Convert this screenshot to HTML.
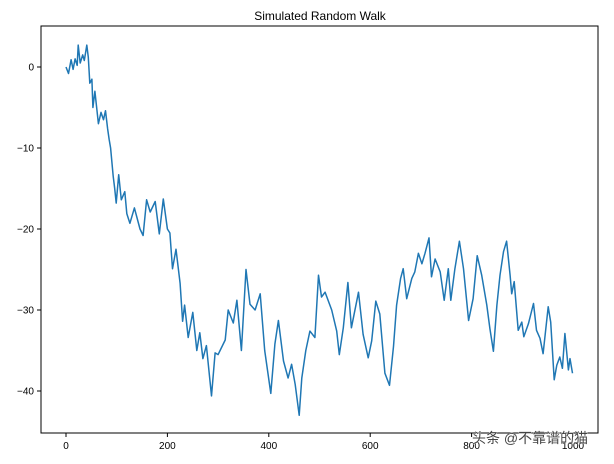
<!DOCTYPE html>
<html><head><meta charset="utf-8"><style>
body{margin:0;background:#fff;width:614px;height:459px;overflow:hidden}
svg text{font-family:"Liberation Sans","DejaVu Sans",sans-serif}
</style></head><body>
<svg id="chart" width="614" height="459" xmlns="http://www.w3.org/2000/svg">
<rect width="614" height="459" fill="#fff"/>
<text x="320" y="20" font-size="12" text-anchor="middle" fill="#000">Simulated Random Walk</text>
<g id="xticks"></g>
<g id="yticks"></g>
<path id="line" fill="none" stroke="#1f77b4" stroke-width="1.5" stroke-linejoin="round"/>
<rect x="41" y="26" width="557" height="407" fill="none" stroke="#000" stroke-width="1"/>
<text x="472" y="443" font-size="14" fill="#444" stroke="#fff" stroke-width="0.6" paint-order="stroke" style='font-family:"Liberation Sans","Noto Sans CJK SC",sans-serif'>头条 @不靠谱的猫</text>
</svg>
<script>
const steps=[0,5,10,14,18,22,24,28,33,36,41,44,47,51,53,57,64,69,74,78,82,85,88,93,96,99,104,109,116,120,126,135,146,152,159,166,176,184,192,200,205,210,217,225,230,234,241,250,258,264,270,277,287,294,300,314,320,330,337,346,355,363,373,383,392,404,412,419,429,438,445,452,460,465,473,481,491,498,504,511,524,534,539,547,556,563,577,586,596,603,611,619,629,638,646,652,660,665,672,682,688,695,702,708,716,721,728,738,746,754,759,767,776,784,794,803,811,820,830,836,843,850,856,863,869,876,879,884,892,899,903,912,922,928,935,941,951,956,963,968,974,979,984,991,994,999];
const values=[0,-0.8,0.9,-0.3,1.0,0.2,2.7,0.5,1.5,0.8,2.7,1.2,-2,-1.5,-5,-3,-7,-5.6,-6.5,-5.4,-7.6,-8.9,-10,-13.5,-15,-16.8,-13.3,-16.4,-15.4,-18.1,-19.3,-17.4,-20,-20.8,-16.4,-17.9,-16.6,-20.6,-16.3,-20,-20.5,-24.9,-22.5,-26.7,-31.4,-29.4,-33.4,-30.3,-35,-32.8,-36,-34.4,-40.6,-35.3,-35.5,-33.7,-30,-31.6,-28.8,-35,-25,-29.3,-30,-28,-35,-40.3,-34.2,-31.3,-36.3,-38.4,-36.7,-39.2,-43,-38.4,-35,-32.6,-33.4,-25.7,-28.4,-27.8,-30,-32.6,-35.5,-32.2,-26.6,-32.2,-27.8,-33,-35.9,-33.8,-28.9,-30.5,-37.8,-39.3,-34.5,-29.4,-26.1,-24.9,-28.6,-26.1,-25.3,-23,-24.3,-23,-21.1,-25.9,-23.7,-25.3,-28.8,-24.9,-28.8,-24.9,-21.5,-24.9,-31.3,-28.6,-23.3,-25.7,-29.4,-32.3,-35.1,-29.4,-25.7,-22.8,-21.5,-25.7,-28,-26.5,-32.5,-31.5,-33.3,-31.7,-29.2,-32.5,-33.5,-35.4,-29.6,-31.5,-38.6,-36.8,-35.8,-37.2,-32.9,-37.4,-36,-37.8];
const xTicks=[0,200,400,600,800,1000];
const yTicks=[0,-10,-20,-30,-40];
const X=s=>66+s*0.507;
const Y=v=>67-v*8.1;
const NS="http://www.w3.org/2000/svg";
let d="";
steps.forEach((s,i)=>{d+=(i?"L":"M")+X(s).toFixed(1)+" "+Y(values[i]).toFixed(1);});
document.getElementById("line").setAttribute("d",d);
const xg=document.getElementById("xticks");
xTicks.forEach(t=>{
  const l=document.createElementNS(NS,"line");
  
  
  l.setAttribute("x1",X(t));l.setAttribute("x2",X(t));l.setAttribute("y1",433);l.setAttribute("y2",437);l.setAttribute("stroke","#000");
  xg.appendChild(l);
  const tx=document.createElementNS(NS,"text");
  
  
  tx.setAttribute("x",X(t));tx.setAttribute("y",449);tx.setAttribute("font-size","10");tx.setAttribute("text-anchor","middle");
  tx.textContent=t;xg.appendChild(tx);
});
const yg=document.getElementById("yticks");
yTicks.forEach(t=>{
  const l=document.createElementNS(NS,"line");
  
  
  l.setAttribute("x1",37);l.setAttribute("x2",41);l.setAttribute("y1",Y(t));l.setAttribute("y2",Y(t));l.setAttribute("stroke","#000");
  yg.appendChild(l);
  const tx=document.createElementNS(NS,"text");
  
  
  tx.setAttribute("x",34);tx.setAttribute("y",Y(t)+3.5);tx.setAttribute("font-size","10");tx.setAttribute("text-anchor","end");
  tx.textContent=t===0?"0":"\u2212"+Math.abs(t);yg.appendChild(tx);
});
</script>
</body></html>
